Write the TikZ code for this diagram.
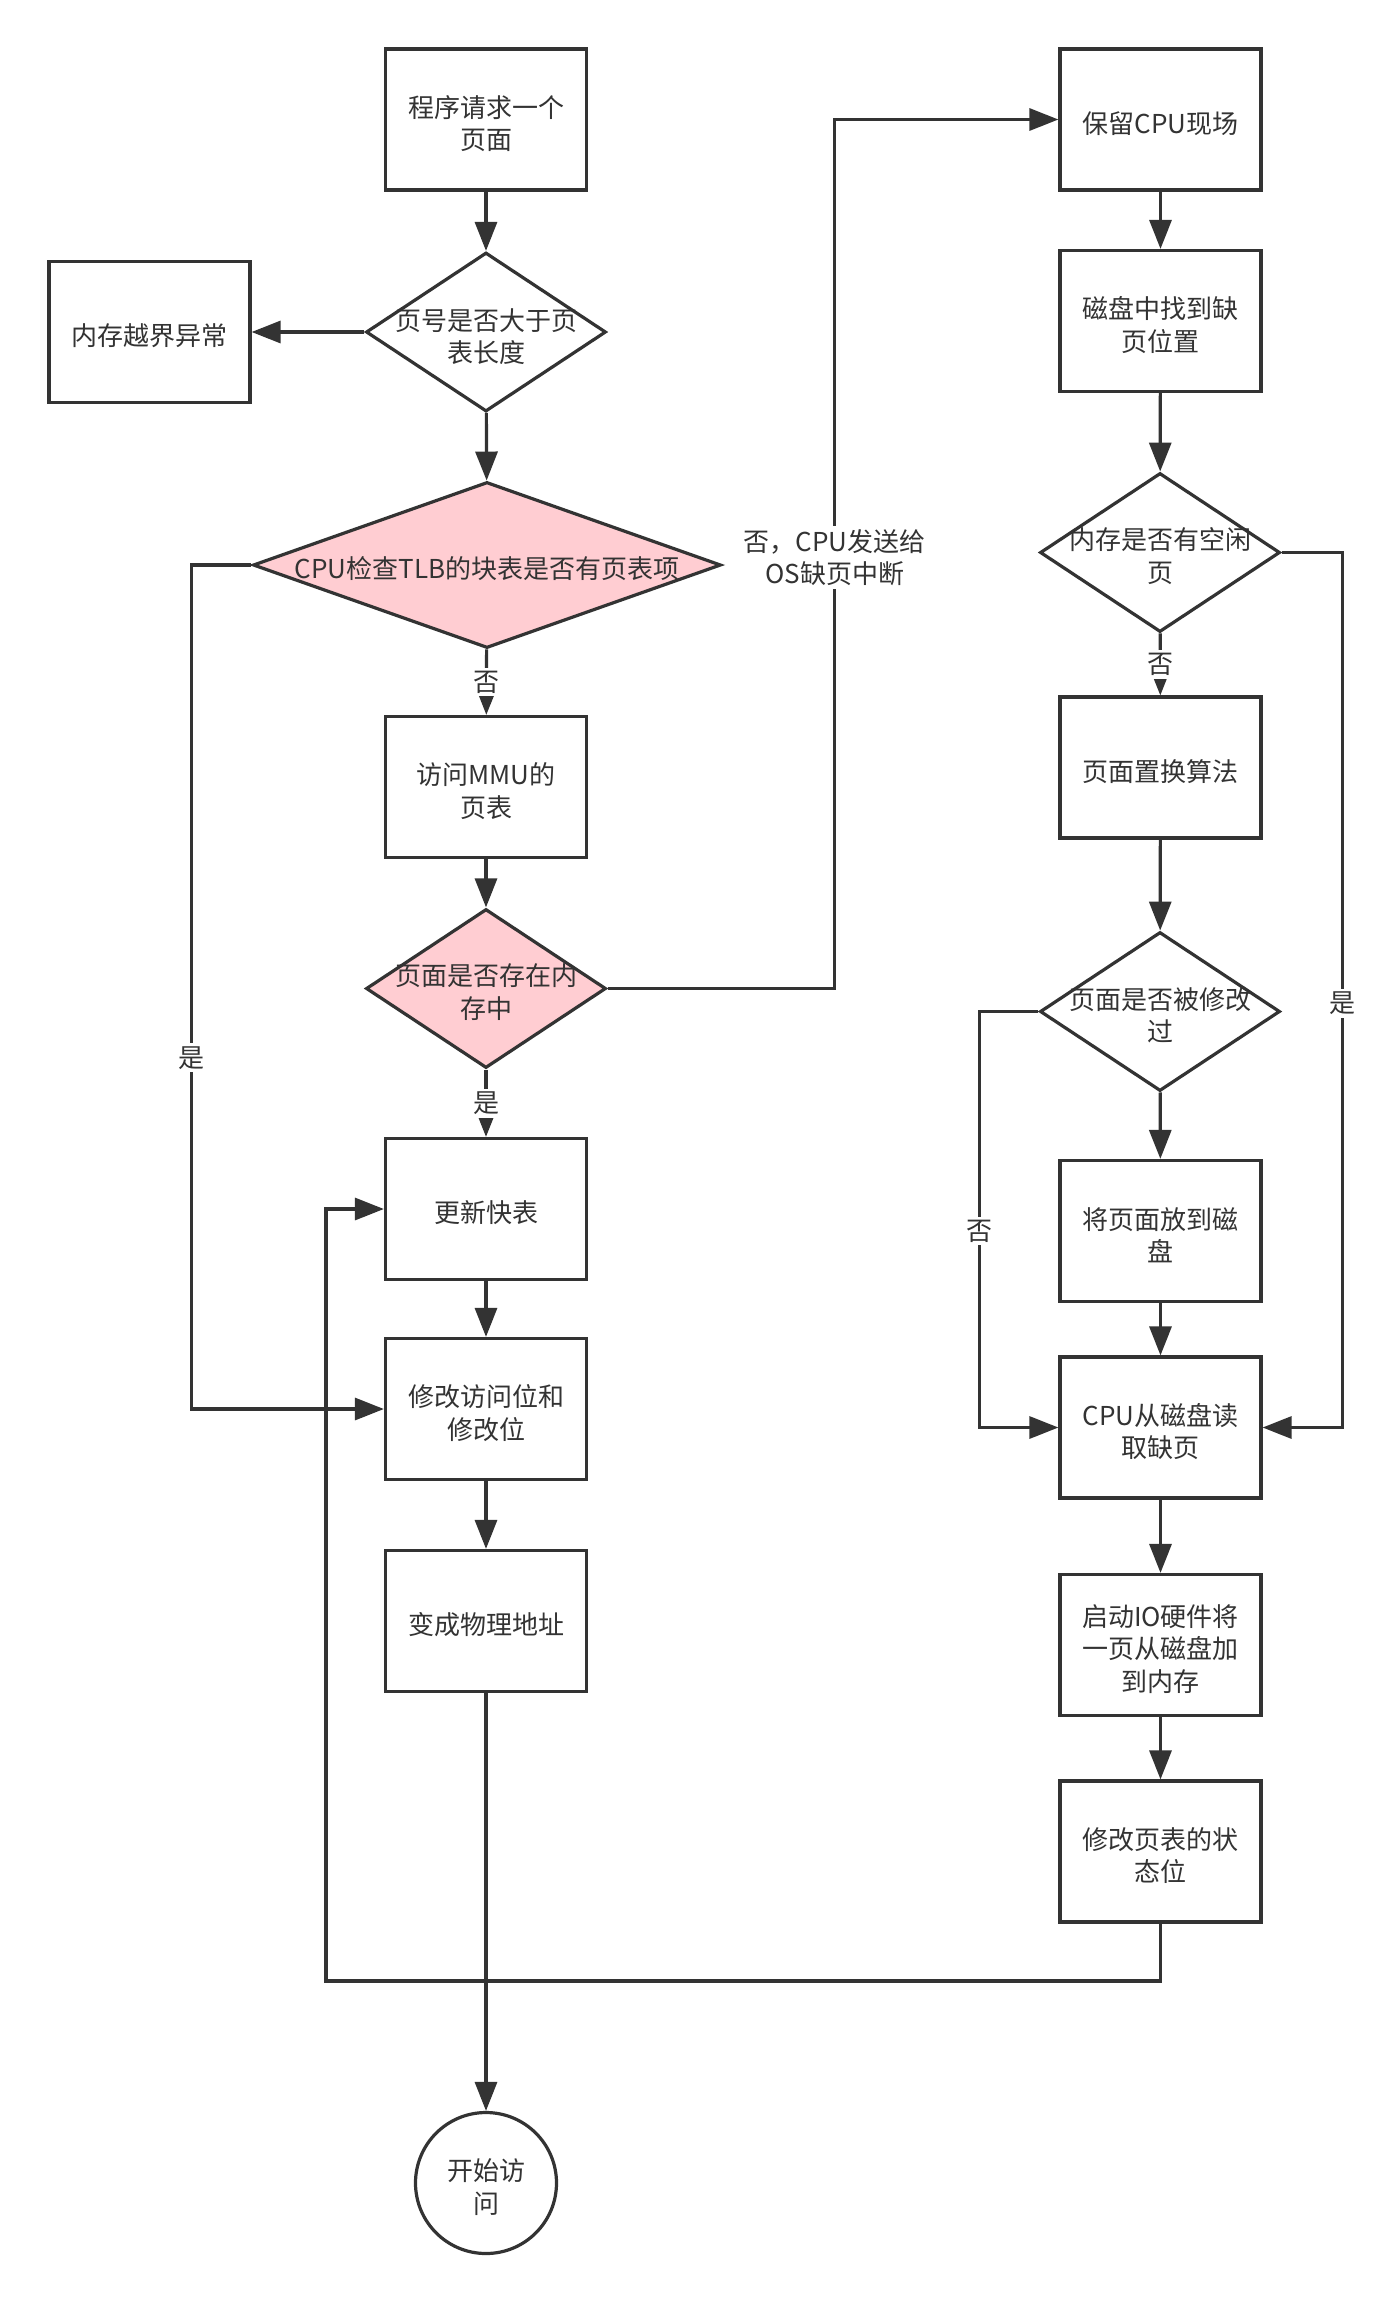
\documentclass[tikz,border=0pt]{standalone}
\usepackage{fontspec}
\setmainfont{Noto Sans CJK SC}
\usetikzlibrary{shapes.geometric,arrows.meta}
\definecolor{ln}{HTML}{333333}
\definecolor{pinkf}{HTML}{FFCDD2}
\newcommand\mystrut{\rule{0pt}{15pt}}
\begin{document}
\begin{tikzpicture}[x=0.5pt,y=-0.5pt,
  every node/.style={font=\fontsize{13pt}{16.1pt}\selectfont, text=ln},
  box/.style={draw=ln, line width=1.6pt, fill=white, minimum width=100.5pt, minimum height=70.5pt, inner sep=0pt, align=center},
  diam/.style={diamond, draw=ln, line width=1.6pt, inner sep=0pt, minimum width=120pt, minimum height=79.5pt},
  txt/.style={align=center, inner sep=0pt},
  arr/.style={draw=ln, line width=1.6pt, -{Triangle[length=14.5pt,width=11pt]}},
  lbl/.style={fill=white, inner sep=1.5pt, align=center}]
\fill[white] (0,0) rectangle (1389,2304);
\useasboundingbox (0,0) rectangle (1389,2304);

% left column
\node[box] (b1) at (486,119.5) {\mystrut 程序请求一个\\页面};
\node[diam] (d1) at (486,332) {};
\node[txt] (d1t) at (486,337) {页号是否大于页\\表长度};
\node[box] (e) at (149.5,332) {\mystrut 内存越界异常};
\node[diam, fill=pinkf, minimum width=234pt, minimum height=83pt] (d2) at (487,565) {};
\node[txt] (d2t) at (487,569) {CPU检查TLB的块表是否有页表项};
\node[box] (b2) at (486,787) {\mystrut 访问MMU的\\页表};
\node[diam, fill=pinkf] (d3) at (486,988.5) {};
\node[txt] (d3t) at (486,992) {页面是否存在内\\存中};
\node[box] (b3) at (486,1209) {\mystrut 更新快表};
\node[box] (b4) at (486,1409) {\mystrut 修改访问位和\\修改位};
\node[box] (b5) at (486,1621) {\mystrut 变成物理地址};
\node[circle, draw=ln, line width=1.6pt, minimum size=70.5pt, inner sep=0pt, align=center] (end) at (486,2183) {\mystrut 开始访\\问};

% right column
\node[box] (r1) at (1160.5,119.5) {\mystrut 保留CPU现场};
\node[box] (r2) at (1160.5,321) {\mystrut 磁盘中找到缺\\页位置};
\node[diam] (rd1) at (1160,552.5) {};
\node[txt] (rd1t) at (1160,556) {内存是否有空闲\\页};
\node[box] (r3) at (1160.5,767.5) {\mystrut 页面置换算法};
\node[diam] (rd2) at (1160,1011.5) {};
\node[txt] (rd2t) at (1160,1015) {页面是否被修改\\过};
\node[box] (r4) at (1160.5,1231) {\mystrut 将页面放到磁\\盘};
\node[box] (r5) at (1160.5,1427.5) {\mystrut CPU从磁盘读\\取缺页};
\node[box] (r6) at (1160.5,1645) {\mystrut 启动IO硬件将\\一页从磁盘加\\到内存};
\node[box] (r7) at (1160.5,1851.5) {\mystrut 修改页表的状\\态位};

\coordinate (k1) at (326,1981);

% left connectors
\draw[arr] (b1) -- (d1);
\draw[arr] (d1.west) -- (e.east);
\draw[arr] (d1) -- (d2);
\draw[arr] (d2) -- node[lbl] (l1) {否} (b2);
\draw[arr] (b2) -- (d3);
\draw[arr] (d3) -- node[lbl] (l2) {是} (b3);
\draw[arr] (b3) -- (b4);
\draw[arr] (b4) -- (b5);
\draw[arr] (b5) -- (end);
\draw[arr] (d2.west) -- ++(-60,0) |- node[lbl,pos=0.292] (l3) {是} (b4.west);
\draw[arr] (d3.east) -- ++(227,0) |- node[lbl,pos=0.248] (l4) {否，CPU发送给\\OS缺页中断} (r1.west);
\draw[arr] (r7.south) |- (k1) -- (k1 |- b3.west) -- (b3.west);

% right connectors
\draw[arr] (r1) -- (r2);
\draw[arr] (r2) -- (rd1);
\draw[arr] (rd1) -- node[lbl] (l5) {否} (r3);
\draw[arr] (r3) -- (rd2);
\draw[arr] (rd2) -- (r4);
\draw[arr] (r4) -- (r5);
\draw[arr] (r5) -- (r6);
\draw[arr] (r6) -- (r7);
\draw[arr] (rd1.east) -- ++(61,0) |- node[lbl,pos=0.2576] (l6) {是} (r5.east);
\draw[arr] (rd2.west) -- ++(-59,0) |- node[lbl,pos=0.264] (l7) {否} (r5.west);
\end{tikzpicture}
\end{document}
